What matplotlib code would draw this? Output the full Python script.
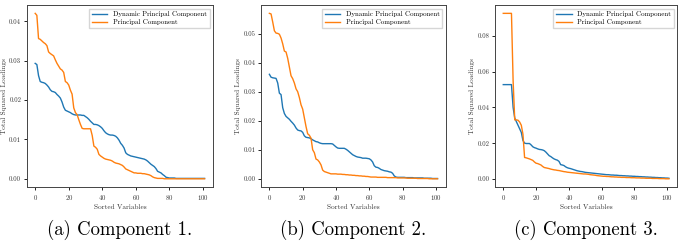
import matplotlib
matplotlib.use("Agg")
import matplotlib.pyplot as plt
import numpy as np

plt.rcParams['font.family'] = ['cmr10', 'DejaVu Serif']
plt.rcParams['mathtext.fontset'] = 'cm'
plt.rcParams['axes.formatter.use_mathtext'] = True

legend_labels = ["Dynamic Principal Component", "Principal Component"]
captions = ["(a) Component 1.", "(b) Component 2.", "(c) Component 3."]
xlabel = "Sorted Variables"
ylabel = "Total Squared Loadings"

dpc1 = [.0293, .0290, .0262, .0247, .0245, .0244, .0242, .0238, .0233, .0226,
        .0222, .0221, .0219, .0214, .0210, .0205, .0195, .0182, .0174, .0172,
        .0170, .0168, .0165, .0163, .0162, .0162, .0162, .0162, .0161, .0161,
        .0158, .0155, .0151, .0146, .0142, .0138, .0138, .0137, .0135, .0132,
        .0128, .0122, .0117, .0114, .0112, .0111, .0111, .0110, .0108, .0104,
        .0098, .0090, .0085, .0078, .0066, .0062, .0060, .0058, .0057, .0056,
        .0055, .0054, .0053, .0052, .0051, .0050, .0048, .0045, .0041, .0037,
        .0034, .0031, .0026, .0019, .0017, .0015, .0011, .0008, .0004, .0003,
        .0002, .0002, .0002, .0002, .0001, .0001, .0001, .0001, .0001, .0001,
        .0001, .0001, .0001, .0001, .0001, .0001, .0001, .0001, .0001, .0001,
        .0001, .0001]
pc1 = [.0420, .0415, .0356, .0354, .0350, .0346, .0343, .0338, .0322, .0318,
       .0315, .0312, .0302, .0293, .0286, .0279, .0276, .0270, .0247, .0244,
       .0238, .0225, .0215, .0180, .0168, .0163, .0150, .0138, .0128, .0127,
       .0127, .0127, .0127, .0127, .0110, .0083, .0080, .0075, .0062, .0058,
       .0055, .0052, .0050, .0049, .0048, .0047, .0045, .0042, .0040, .0039,
       .0038, .0036, .0034, .0030, .0025, .0023, .0021, .0019, .0017, .0015,
       .0015, .0014, .0014, .0014, .0013, .0013, .0012, .0011, .0010, .0008,
       .0005, .0003, .0002, .0001, .0001, .0001, .0001, .0000, .0000, .0000,
       .0000, .0000, .0000, .0000, .0000, .0000, .0000, .0000, .0000, .0000,
       .0000, .0000, .0000, .0000, .0000, .0000, .0000, .0000, .0000, .0000,
       .0000, .0000]

dpc2 = [.0360, .0350, .0348, .0347, .0346, .0330, .0295, .0290, .0245, .0225,
        .0215, .0210, .0205, .0198, .0192, .0185, .0175, .0168, .0166, .0165,
        .0160, .0148, .0143, .0142, .0141, .0138, .0134, .0131, .0128, .0127,
        .0124, .0122, .0121, .0121, .0121, .0121, .0121, .0121, .0120, .0115,
        .0110, .0106, .0105, .0105, .0105, .0105, .0102, .0098, .0093, .0088,
        .0083, .0080, .0077, .0075, .0074, .0073, .0071, .0071, .0071, .0070,
        .0069, .0065, .0058, .0045, .0040, .0039, .0036, .0032, .0030, .0028,
        .0027, .0026, .0024, .0023, .0019, .0010, .0006, .0005, .0005, .0005,
        .0005, .0005, .0004, .0004, .0004, .0004, .0004, .0003, .0003, .0003,
        .0003, .0003, .0003, .0002, .0002, .0002, .0002, .0002, .0001, .0001,
        .0001, .0001]
pc2 = [.0570, .0568, .0540, .0510, .0502, .0501, .0498, .0485, .0465, .0440,
       .0437, .0415, .0385, .0355, .0345, .0330, .0310, .0300, .0280, .0255,
       .0240, .0210, .0180, .0155, .0150, .0140, .0100, .0090, .0068, .0065,
       .0058, .0048, .0030, .0025, .0023, .0021, .0019, .0017, .0017, .0017,
       .0017, .0016, .0016, .0016, .0015, .0015, .0014, .0014, .0013, .0013,
       .0012, .0012, .0011, .0011, .0010, .0010, .0009, .0009, .0008, .0008,
       .0007, .0006, .0006, .0006, .0006, .0005, .0005, .0005, .0005, .0005,
       .0005, .0004, .0004, .0004, .0004, .0004, .0004, .0003, .0003, .0003,
       .0003, .0003, .0003, .0002, .0002, .0002, .0002, .0002, .0002, .0001,
       .0001, .0001, .0001, .0001, .0001, .0001, .0000, .0000, .0000, .0000,
       .0000, .0000]

dpc3 = [.0527, .0527, .0527, .0527, .0527, .0527, .0400, .0340, .0320, .0300,
        .0280, .0260, .0215, .0200, .0198, .0198, .0198, .0190, .0180, .0175,
        .0172, .0168, .0165, .0164, .0162, .0158, .0150, .0140, .0130, .0125,
        .0118, .0112, .0108, .0105, .0098, .0080, .0078, .0075, .0068, .0063,
        .0060, .0058, .0055, .0052, .0049, .0046, .0044, .0042, .0041, .0039,
        .0037, .0036, .0035, .0034, .0033, .0032, .0031, .0030, .0029, .0028,
        .0027, .0026, .0025, .0024, .0024, .0023, .0022, .0022, .0021, .0021,
        .0020, .0019, .0019, .0018, .0018, .0017, .0017, .0016, .0016, .0015,
        .0015, .0014, .0014, .0013, .0013, .0012, .0012, .0011, .0011, .0010,
        .0010, .0009, .0009, .0008, .0008, .0007, .0007, .0006, .0006, .0005,
        .0005, .0004]
pc3 = [.0925, .0925, .0925, .0925, .0925, .0925, .0550, .0330, .0330, .0328,
       .0318, .0300, .0250, .0120, .0118, .0115, .0112, .0108, .0104, .0095,
       .0088, .0086, .0082, .0078, .0070, .0064, .0062, .0060, .0058, .0055,
       .0053, .0051, .0050, .0048, .0047, .0045, .0043, .0041, .0040, .0038,
       .0037, .0036, .0035, .0034, .0033, .0032, .0031, .0030, .0029, .0028,
       .0028, .0027, .0026, .0024, .0023, .0022, .0021, .0019, .0018, .0017,
       .0016, .0015, .0015, .0014, .0014, .0013, .0012, .0012, .0011, .0011,
       .0010, .0010, .0009, .0009, .0009, .0008, .0008, .0008, .0007, .0007,
       .0007, .0006, .0006, .0006, .0005, .0005, .0005, .0004, .0004, .0004,
       .0004, .0003, .0003, .0003, .0003, .0002, .0002, .0002, .0002, .0001,
       .0001, .0001]

series = [(dpc1, pc1), (dpc2, pc2), (dpc3, pc3)]

fig = plt.figure(figsize=(6.85, 2.42), dpi=100)
positions = [(0.039, 0.227, 0.272, 0.752),
             (0.381, 0.227, 0.270, 0.752),
             (0.7226, 0.227, 0.266, 0.752)]

for pos, (d, p), cap in zip(positions, series, captions):
    ax = fig.add_axes(pos)
    ax.plot(np.arange(len(d)), d, color='#1f77b4', lw=1.0, label=legend_labels[0])
    ax.plot(np.arange(len(p)), p, color='#ff7f0e', lw=1.0, label=legend_labels[1])
    ax.set_xticks([0, 20, 40, 60, 80, 100])
    ax.yaxis.set_major_formatter(matplotlib.ticker.FormatStrFormatter('%.2f'))
    ax.tick_params(labelsize=4.8, length=2.5, width=0.6, pad=1.5,
                   labelcolor='#333333')
    ax.set_xlabel(xlabel, fontsize=5.2, labelpad=1.5, color='#333333')
    ax.set_ylabel(ylabel, fontsize=5.2, labelpad=1.5, color='#333333')
    for s in ax.spines.values():
        s.set_linewidth(0.7)
        s.set_color('#444444')
    ax.legend(loc='upper right', fontsize=5.0, handlelength=2.2,
              borderpad=0.4, labelspacing=0.25, handletextpad=0.8,
              fancybox=False, framealpha=0.8, edgecolor='#cccccc')
    cx = pos[0] + pos[2] / 2
    fig.text(cx, 0.05, cap, ha='center', va='center', fontsize=13.5)

fig.savefig("out.png", dpi=100)
